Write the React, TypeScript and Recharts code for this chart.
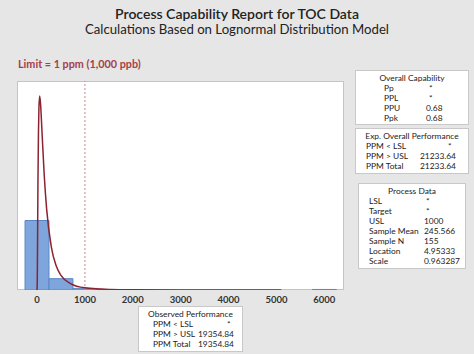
import React from "react";
import { ComposedChart, Line, XAxis, YAxis, ReferenceArea, ReferenceLine } from "recharts";

const binCenters = [0, 500, 1000, 1500, 2000, 2500, 3000, 3500, 4000, 4500, 5000, 5500, 6000];
const binCounts = [129, 21, 3, 1, 0, 0, 0, 0, 0, 0, 0, 0, 1];
const binWidth = 500;

const curveX = [0, 5, 10, 20, 30, 40, 56, 75, 100, 150, 200, 300, 400, 500, 700, 1000, 1500, 2000, 3000, 4000, 5100];
const curveY = [0, 16, 73, 204, 292, 339, 360, 344, 301, 214, 151, 79, 45, 27, 12, 4.1, 1.1, 0.4, 0.06, 0.01, 0];

const xTicks = [0, 1000, 2000, 3000, 4000, 5000, 6000];
const usl = 1000;

const capLabels = ["Pp", "PPL", "PPU", "Ppk"];
const capValues = ["*", "*", "0.68", "0.68"];
const expLabels = ["PPM < LSL", "PPM > USL", "PPM Total"];
const expValues = ["*", "21233.64", "21233.64"];
const procLabels = ["LSL", "Target", "USL", "Sample Mean", "Sample N", "Location", "Scale"];
const procValues = ["*", "*", "1000", "245.566", "155", "4.95333", "0.963287"];
const obsLabels = ["PPM < LSL", "PPM > USL", "PPM Total"];
const obsValues = ["*", "19354.84", "19354.84"];

const FONT = "Lato, 'Open Sans', sans-serif";
const RED = "#8c2331";

const curveData = curveX.map((x, i) => ({ x, y: curveY[i] }));

function StatBox({ left, top, width, height, title, labels, values, labelX, valueX, star }: any) {
  return (
    <div
      style={{
        position: "absolute",
        left,
        top,
        width,
        height,
        background: "#fff",
        border: "1px solid #c8c8c8",
        boxSizing: "border-box",
        fontFamily: FONT,
        fontSize: 8.4,
        color: "#222",
        lineHeight: "10px",
      }}
    >
      <div style={{ textAlign: "center", marginTop: 2 }}>{title}</div>
      {labels.map((l: string, i: number) => (
        <div key={l} style={{ position: "relative", height: 10 }}>
          <span style={{ position: "absolute", left: labelX }}>{l}</span>
          <span style={{ position: "absolute", left: values[i] === "*" ? star : valueX }}>{values[i]}</span>
        </div>
      ))}
    </div>
  );
}

export default function App() {
  return (
    <div style={{ position: "absolute", left: 0, top: 0, width: 474, height: 354, background: "#e6e6e6", overflow: "hidden" }}>
      <div style={{ position: "absolute", left: 0, top: 5, width: 474, textAlign: "center", fontFamily: FONT, fontSize: 14, fontWeight: 600, color: "#222", lineHeight: "17px" }}>
        Process Capability Report for TOC Data
      </div>
      <div style={{ position: "absolute", left: 0, top: 21, width: 474, textAlign: "center", fontFamily: FONT, fontSize: 13.2, color: "#222", lineHeight: "17px" }}>
        Calculations Based on Lognormal Distribution Model
      </div>
      <div style={{ position: "absolute", left: 18, top: 57, fontFamily: FONT, fontSize: 10.8, fontWeight: 700, color: "#a5404a" }}>
        Limit = 1 ppm (1,000 ppb)
      </div>
      <div style={{ position: "absolute", left: 17, top: 81, width: 327, height: 209, background: "#fff", border: "1px solid #c4c4c4", boxSizing: "border-box" }} />
      <div style={{ position: "absolute", left: 0, top: 0 }}>
        <ComposedChart width={474} height={354} data={curveData} margin={{ top: 81, right: 130, bottom: 34, left: 17 }}>
          <XAxis
            type="number"
            dataKey="x"
            domain={[-418, 6410]}
            ticks={xTicks}
            allowDataOverflow
            axisLine={false}
            tickLine={false}
            tickMargin={0}
            tick={{ fontSize: 9.5, fontWeight: 700, fill: "#333", fontFamily: FONT }}
          />
          <YAxis hide domain={[0, 388]} allowDataOverflow />
          {binCenters.map((c, i) =>
            binCounts[i] > 0 ? (
              <ReferenceArea
                key={c}
                x1={c - binWidth / 2}
                x2={c + binWidth / 2}
                y1={0}
                y2={binCounts[i]}
                fill="#7ea6dc"
                fillOpacity={1}
                stroke="#5a86c6"
                strokeOpacity={1}
                ifOverflow="hidden"
              />
            ) : null
          )}
          <ReferenceLine x={usl} stroke="#bf8c8c" strokeDasharray="2 2" strokeWidth={1} />
          <Line type="monotone" dataKey="y" stroke={RED} strokeWidth={1.5} dot={false} isAnimationActive={false} />
        </ComposedChart>
      </div>
      <StatBox left={355} top={70} width={114} height={55} title="Overall Capability" labels={capLabels} values={capValues} labelX={28} valueX={70} star={73} />
      <StatBox left={355} top={128} width={114} height={46} title="Exp. Overall Performance" labels={expLabels} values={expValues} labelX={10} valueX={64} star={92} />
      <StatBox left={358} top={183} width={108} height={86} title="Process Data" labels={procLabels} values={procValues} labelX={10} valueX={65} star={67} />
      <StatBox left={138} top={306} width={105} height={46} title="Observed Performance" labels={obsLabels} values={obsValues} labelX={14} valueX={59} star={88} />
    </div>
  );
}
